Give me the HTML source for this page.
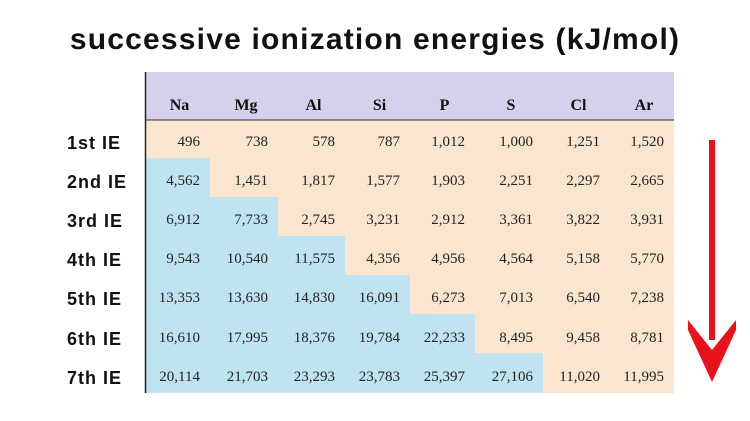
<!DOCTYPE html>
<html><head><style>
body{margin:0;width:750px;height:421px;background:#fff;position:relative;overflow:hidden;font-family:"Liberation Serif",serif}
.t{position:absolute;left:0;width:750px;top:23px;text-align:center;font:bold 30px "Liberation Sans",sans-serif;color:#111;letter-spacing:1.2px}
.l{position:absolute;left:67px;font:bold 18px "Liberation Sans",sans-serif;color:#111;letter-spacing:1px}
.c{position:absolute;text-align:right;font-size:15px;color:#222;line-height:39px;height:39px}
.h{position:absolute;text-align:center;font-weight:bold;font-size:16px;color:#111;top:97px}
</style></head><body>
<div class="t">successive ionization energies (kJ/mol)</div>
<div style="position:absolute;left:145px;top:72px;width:529px;height:48px;background:#d6d0ec"></div>
<div style="position:absolute;left:145px;top:120px;width:529px;height:273px;background:#fae6cf"></div>
<svg style="position:absolute;left:0;top:0" width="750" height="421">
<polygon fill="#bfe3f0" points="145,158 210,158 210,197 278,197 278,236 345,236 345,275 410,275 410,314 475,314 475,353 543,353 543,393 145,393"/>
<line x1="145.5" y1="72" x2="145.5" y2="393" stroke="#222" stroke-width="1.5"/>
<line x1="145" y1="120" x2="674" y2="120" stroke="#333" stroke-width="1"/>
<rect x="709" y="140" width="6" height="200" fill="#e8121a"/>
<polygon fill="#e8121a" points="688,320 712,350 736,320 736,330 712,382 688,330"/>
</svg>
<div id="g"></div>
<script>
var b=[145,210,278,345,410,475,543,610,674];
var hd=["Na","Mg","Al","Si","P","S","Cl","Ar"];
var lab=["1st IE","2nd IE","3rd IE","4th IE","5th IE","6th IE","7th IE"];
var d=[["496","738","578","787","1,012","1,000","1,251","1,520"],
["4,562","1,451","1,817","1,577","1,903","2,251","2,297","2,665"],
["6,912","7,733","2,745","3,231","2,912","3,361","3,822","3,931"],
["9,543","10,540","11,575","4,356","4,956","4,564","5,158","5,770"],
["13,353","13,630","14,830","16,091","6,273","7,013","6,540","7,238"],
["16,610","17,995","18,376","19,784","22,233","8,495","9,458","8,781"],
["20,114","21,703","23,293","23,783","25,397","27,106","11,020","11,995"]];
var h="";
for(var j=0;j<8;j++)h+='<div class="h" style="left:'+(b[j]+4)+'px;width:'+(b[j+1]-b[j]-4)+'px">'+hd[j]+'</div>';
for(var i=0;i<7;i++){var y=120+i*39.1;
h+='<div class="l" style="top:'+(y+13)+'px">'+lab[i]+'</div>';
for(var j=0;j<8;j++)h+='<div class="c" style="top:'+(y+3)+'px;left:'+b[j]+'px;width:'+(b[j+1]-b[j]-10)+'px">'+d[i][j]+'</div>';}
document.getElementById("g").innerHTML=h;
</script>
</body></html>
